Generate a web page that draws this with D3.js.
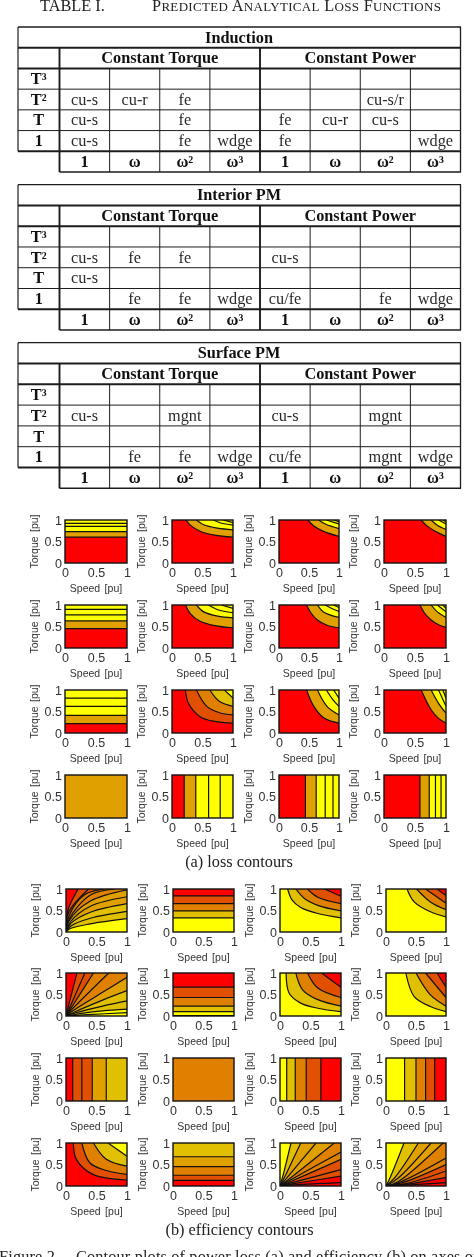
<!DOCTYPE html>
<html>
<head>
<meta charset="utf-8">
<script src="https://cdn.jsdelivr.net/npm/d3@7"></script>
<style>
  html, body { margin: 0; padding: 0; background: #fff; overflow: hidden; }
  svg { display: block; filter: blur(0.35px); }
</style>
</head>
<body>
<script>
// ---- table contents ----
const tableTitles = ["Induction", "Interior PM", "Surface PM"];
const regimes = ["Constant Torque", "Constant Power"];
const torqueTerms = ["T³", "T²", "T", "1"];
const speedTerms = ["1", "ω", "ω²", "ω³", "1", "ω", "ω²", "ω³"];

const inductionCells = [
  ["", "", "", "", "", "", "", ""],
  ["cu-s", "cu-r", "fe", "", "", "", "cu-s/r", ""],
  ["cu-s", "", "fe", "", "fe", "cu-r", "cu-s", ""],
  ["cu-s", "", "fe", "wdge", "fe", "", "", "wdge"]
];
const interiorCells = [
  ["", "", "", "", "", "", "", ""],
  ["cu-s", "fe", "fe", "", "cu-s", "", "", ""],
  ["cu-s", "", "", "", "", "", "", ""],
  ["", "fe", "fe", "wdge", "cu/fe", "", "fe", "wdge"]
];
const surfaceCells = [
  ["", "", "", "", "", "", "", ""],
  ["cu-s", "", "mgnt", "", "cu-s", "", "mgnt", ""],
  ["", "", "", "", "", "", "", ""],
  ["", "fe", "fe", "wdge", "cu/fe", "", "mgnt", "wdge"]
];

// ---- contour data: [speed, torque] along each contour ----
const speedTicks = [0, 0.5, 1];
const torqueTicks = [0, 0.5, 1];
const levelColors = ["#ff0000", "#e05000", "#e08000", "#e0a000", "#e0c000", "#ffff00"];

const flat = t => [[0, t], [1, t]];       // constant torque line
const upright = s => [[s, 1], [s, 0]];    // constant speed line

// panels are row by row, 4 per row. levels = colour rank of each region, contours nested
const lossLevels = [
  [0, 3, 5, 5, 5], [0, 3, 5, 5, 5], [0, 3, 5, 5, 5], [0, 3, 5, 5, 5],
  [0, 3, 5, 5, 5], [0, 3, 5, 5, 5], [0, 3, 5, 5, 5], [0, 3, 5, 5, 5],
  [0, 3, 5, 5, 5], [0, 1, 2, 4, 5], [0, 3, 5, 5, 5], [0, 3, 5, 5, 5],
  [3], [0, 3, 5, 5, 5], [0, 3, 5, 5, 5], [0, 3, 5, 5, 5]
];
const lossContours = [
  [flat(0.6), flat(0.73), flat(0.85), flat(0.92)],
  [
    [[0.23, 1], [0.3, 0.88], [0.46, 0.74], [0.7, 0.65], [1, 0.6]],
    [[0.4, 1], [0.52, 0.89], [0.75, 0.81], [1, 0.77]],
    [[0.68, 1], [0.8, 0.93], [1, 0.88]],
    [[0.84, 1], [1, 0.94]]
  ],
  [
    [[0.48, 1], [0.58, 0.86], [0.75, 0.73], [1, 0.62]],
    [[0.66, 1], [0.78, 0.9], [1, 0.8]],
    [[0.79, 1], [0.9, 0.95], [1, 0.91]],
    [[0.91, 1], [1, 0.96]]
  ],
  [
    [[0.6, 1], [0.68, 0.88], [0.81, 0.75], [1, 0.62]],
    [[0.76, 1], [0.86, 0.88], [1, 0.78]],
    [[0.88, 1], [1, 0.91]],
    [[0.95, 1], [1, 0.96]]
  ],

  [flat(0.45), flat(0.63), flat(0.77), flat(0.9)],
  [
    [[0.22, 1], [0.3, 0.8], [0.46, 0.62], [0.7, 0.52], [1, 0.47]],
    [[0.4, 1], [0.52, 0.84], [0.75, 0.74], [1, 0.7]],
    [[0.6, 1], [0.75, 0.89], [1, 0.82]],
    [[0.81, 1], [1, 0.92]]
  ],
  [
    [[0.46, 1], [0.53, 0.82], [0.64, 0.65], [0.8, 0.53], [1, 0.47]],
    [[0.64, 1], [0.74, 0.84], [1, 0.71]],
    [[0.77, 1], [0.88, 0.92], [1, 0.85]],
    [[0.91, 1], [1, 0.94]]
  ],
  [
    [[0.58, 1], [0.65, 0.82], [0.76, 0.65], [0.88, 0.54], [1, 0.48]],
    [[0.76, 1], [0.86, 0.84], [1, 0.71]],
    [[0.86, 1], [0.93, 0.92], [1, 0.84]],
    [[0.95, 1], [1, 0.92]]
  ],

  [flat(0.22), flat(0.41), flat(0.62), flat(0.81)],
  [
    [[0.22, 1], [0.27, 0.69], [0.46, 0.38], [0.7, 0.27], [1, 0.23]],
    [[0.4, 1], [0.57, 0.62], [0.78, 0.47], [1, 0.42]],
    [[0.62, 1], [0.78, 0.73], [1, 0.62]],
    [[0.86, 1], [1, 0.81]]
  ],
  [
    [[0.46, 1], [0.58, 0.62], [0.75, 0.35], [1, 0.23]],
    [[0.64, 1], [0.8, 0.62], [1, 0.42]],
    [[0.79, 1], [0.9, 0.77], [1, 0.62]],
    [[0.91, 1], [1, 0.81]]
  ],
  [
    [[0.6, 1], [0.76, 0.54], [0.88, 0.34], [1, 0.23]],
    [[0.76, 1], [0.88, 0.69], [1, 0.46]],
    [[0.88, 1], [1, 0.62]],
    [[0.95, 1], [1, 0.81]]
  ],

  [],
  [upright(0.2), upright(0.39), upright(0.6), upright(0.79)],
  [upright(0.44), upright(0.62), upright(0.77), upright(0.9)],
  [upright(0.58), upright(0.73), upright(0.83), upright(0.92)]
];

const efficiencyLevels = [
  [5, 4, 4, 3, 3, 2, 2, 1, 1, 0],
  [5, 4, 2, 1, 0], [5, 4, 2, 1, 0], [5, 4, 2, 1, 0],
  [5, 5, 4, 4, 3, 2, 2, 1, 1, 0],
  [5, 5, 4, 2, 1, 0], [5, 4, 2, 1, 0], [5, 4, 2, 1, 0],
  [0, 1, 1, 3, 4], [2], [5, 4, 2, 1, 0], [5, 4, 2, 1, 0],
  [0, 1, 2, 4, 5], [0, 1, 2, 3, 4],
  [0, 0, 1, 1, 2, 2, 3, 3, 4, 5],
  [0, 0, 1, 1, 2, 2, 3, 3, 4, 5]
];
const efficiencyContours = [
  [
    [[0, 0], [0.07, 0.08], [0.4, 0.19], [1, 0.31]],
    [[0, 0], [0.08, 0.14], [0.4, 0.32], [1, 0.48]],
    [[0, 0], [0.08, 0.2], [0.4, 0.46], [1, 0.66]],
    [[0, 0], [0.08, 0.25], [0.4, 0.6], [1, 0.82]],
    [[0, 0], [0.06, 0.28], [0.4, 0.72], [1, 0.98]],
    [[0, 0], [0.05, 0.3], [0.4, 0.86], [0.8, 1]],
    [[0, 0], [0.05, 0.38], [0.3, 0.86], [0.62, 1]],
    [[0, 0], [0.04, 0.45], [0.37, 1]],
    [[0, 0], [0.03, 0.5], [0.2, 1]]
  ],
  [flat(0.33), flat(0.49), flat(0.66), flat(0.84)],
  [
    [[0.125, 1], [0.2, 0.74], [0.34, 0.57], [0.62, 0.43], [1, 0.33]],
    [[0.26, 1], [0.4, 0.78], [0.62, 0.62], [1, 0.49]],
    [[0.45, 1], [0.62, 0.81], [1, 0.66]],
    [[0.73, 1], [1, 0.83]]
  ],
  [
    [[0.35, 1], [0.47, 0.7], [0.74, 0.47], [1, 0.35]],
    [[0.51, 1], [0.74, 0.7], [1, 0.52]],
    [[0.66, 1], [1, 0.67]],
    [[0.85, 1], [1, 0.85]]
  ],

  [
    [[0, 0], [0.35, 0.03], [1, 0.08]],
    [[0, 0], [0.2, 0.05], [0.6, 0.12], [1, 0.16]],
    [[0, 0], [0.15, 0.07], [0.6, 0.23], [1, 0.35]],
    [[0, 0], [0.15, 0.1], [0.6, 0.37], [1, 0.59]],
    [[0, 0], [0.1, 0.11], [0.6, 0.55], [1, 0.9]],
    [[0, 0], [0.1, 0.16], [0.7, 1]],
    [[0, 0], [0.1, 0.22], [0.45, 1]],
    [[0, 0], [0.1, 0.32], [0.31, 1]],
    [[0, 0], [0.07, 0.4], [0.18, 1]]
  ],
  [flat(0.01), flat(0.1), flat(0.23), flat(0.43), flat(0.67)],
  [
    [[0.1, 1], [0.15, 0.53], [0.34, 0.3], [0.62, 0.18], [1, 0.1]],
    [[0.26, 1], [0.37, 0.61], [0.62, 0.38], [1, 0.23]],
    [[0.45, 1], [0.62, 0.65], [1, 0.43]],
    [[0.68, 1], [1, 0.67]]
  ],
  [
    [[0.33, 1], [0.47, 0.45], [0.74, 0.22], [1, 0.1]],
    [[0.5, 1], [0.74, 0.49], [1, 0.23]],
    [[0.66, 1], [1, 0.43]],
    [[0.85, 1], [1, 0.67]]
  ],

  [upright(0.11), upright(0.26), upright(0.43), upright(0.66)],
  [],
  [upright(0.11), upright(0.25), upright(0.43), upright(0.67)],
  [upright(0.31), upright(0.5), upright(0.66), upright(0.81)],

  [
    [[0.12, 1], [0.17, 0.62], [0.44, 0.27], [1, 0.14]],
    [[0.26, 1], [0.39, 0.54], [0.66, 0.36], [1, 0.27]],
    [[0.45, 1], [0.66, 0.62], [1, 0.46]],
    [[0.69, 1], [1, 0.69]]
  ],
  [flat(0.13), flat(0.25), flat(0.45), flat(0.68)],
  [
    [[0, 0], [0.3, 0.03], [1, 0.08]],
    [[0, 0], [0.25, 0.06], [1, 0.23]],
    [[0, 0], [0.15, 0.06], [1, 0.38]],
    [[0, 0], [0.12, 0.07], [1, 0.62]],
    [[0, 0], [0.12, 0.1], [1, 0.79]],
    [[0, 0], [0.12, 0.13], [0.89, 1]],
    [[0, 0], [0.12, 0.2], [0.59, 1]],
    [[0, 0], [0.08, 0.22], [0.34, 1]],
    [[0, 0], [0.05, 0.25], [0.18, 1]]
  ],
  [
    [[0, 0], [0.45, 0.03], [1, 0.08]],
    [[0, 0], [0.4, 0.05], [1, 0.2]],
    [[0, 0], [0.35, 0.06], [1, 0.35]],
    [[0, 0], [0.3, 0.09], [1, 0.5]],
    [[0, 0], [0.25, 0.1], [1, 0.65]],
    [[0, 0], [0.2, 0.1], [0.95, 1]],
    [[0, 0], [0.2, 0.18], [0.75, 1]],
    [[0, 0], [0.15, 0.2], [0.54, 1]],
    [[0, 0], [0.07, 0.2], [0.3, 1]]
  ]
];

// ---- layout ----
const width = 474, height = 1257;
const svg = d3.select("body").append("svg")
  .attr("width", width).attr("height", height);
const serif = "'Liberation Serif', 'Times New Roman', serif";
const sans = "'Liberation Sans', Arial, sans-serif";
const ink = "#1c1c1c";

// header line, small caps done by hand so the width can follow the scan
svg.append("text").attr("x", 40).attr("y", 10.5)
  .attr("font-family", serif).attr("font-size", 16.3).attr("fill", "#222")
  .text("TABLE I.");
const headWords = ["PREDICTED", "ANALYTICAL", "LOSS", "FUNCTIONS"];
const head = svg.append("text").attr("x", 152).attr("y", 10.5)
  .attr("font-family", serif).attr("font-size", 16.3).attr("fill", "#222")
  .attr("textLength", 289).attr("lengthAdjust", "spacing");
headWords.forEach((w, i) => {
  head.append("tspan").text((i ? " " : "") + w[0]);
  head.append("tspan").attr("font-size", 13).text(w.slice(1));
});

function drawTable(top, bottom, title, cells) {
  const g = svg.append("g");
  const rowY = d3.scaleLinear().domain([0, 7]).range([top, bottom]);
  const colX = d3.scaleLinear().domain([0, 8]).range([59.5, 460.5]);
  const hLine = (i, x1, w) => g.append("line")
    .attr("x1", x1).attr("x2", 461).attr("y1", rowY(i)).attr("y2", rowY(i))
    .attr("stroke", ink).attr("stroke-width", w);
  const vLine = (x, i1, i2, w) => g.append("line")
    .attr("x1", x).attr("x2", x).attr("y1", rowY(i1)).attr("y2", rowY(i2))
    .attr("stroke", ink).attr("stroke-width", w);

  hLine(0, 18, 1.3); hLine(1, 18, 1.9); hLine(2, 18, 1.9);
  hLine(3, 18, 1); hLine(4, 18, 1); hLine(5, 18, 1);
  hLine(6, 18, 1.9); hLine(7, 59.5, 1.4);
  vLine(18, 0, 6, 1.2);
  vLine(colX(8), 0, 7, 1.3);
  vLine(colX(0), 1, 7, 1.9);
  vLine(colX(4), 1, 7, 1.9);
  d3.range(1, 8).filter(c => c !== 4).forEach(c => vLine(colX(c), 2, 7, 1));

  const put = (x, row, txt, bold) => g.append("text")
    .attr("x", x).attr("y", rowY(row + 0.5) + 5.2)
    .attr("text-anchor", "middle")
    .attr("font-family", serif).attr("font-size", 16.3)
    .attr("font-weight", bold ? "bold" : "normal")
    .attr("fill", bold ? "#111" : "#2a2a2a")
    .text(txt);

  put(239, 0, title, true);
  regimes.forEach((r, i) => put(colX(i * 4 + 2), 1, r, true));
  torqueTerms.forEach((t, i) => put(38.7, i + 2, t, true));
  cells.forEach((row, i) => row.forEach((c, j) => {
    if (c) put(colX(j + 0.5), i + 2, c, false);
  }));
  speedTerms.forEach((s, j) => put(colX(j + 0.5), 6, s, true));
}

drawTable(27, 172, tableTitles[0], inductionCells);
drawTable(184.7, 330, tableTitles[1], interiorCells);
drawTable(342.7, 488.3, tableTitles[2], surfaceCells);

// walk the unit square anticlockwise from a contour's end back to its start
function edgePos(p) {
  const [x, y] = p;
  if (y === 0) return x;
  if (x === 1) return 1 + y;
  if (y === 1) return 3 - x;
  return 4 - y;
}
const corners = [[1, 0], [1, 1], [0, 1], [0, 0]];
function cornersBetween(pts) {
  const a = edgePos(pts[pts.length - 1]);
  let b = edgePos(pts[0]);
  if (b <= a) b += 4;
  const out = [];
  for (let s = Math.floor(a) + 1; s < b; s++) out.push(corners[(s - 1) % 4]);
  return out;
}

let clipId = 0;
function drawPanel(x0, y0, w, h, levels, contours) {
  const g = svg.append("g");
  const x = d3.scaleLinear().domain([0, 1]).range([x0, x0 + w]);
  const y = d3.scaleLinear().domain([0, 1]).range([y0 + h, y0]);
  const line = d3.line().x(d => x(d[0])).y(d => y(d[1])).curve(d3.curveCatmullRom.alpha(0.5));
  const id = "clip" + (clipId++);
  g.append("clipPath").attr("id", id).append("rect")
    .attr("x", x0).attr("y", y0).attr("width", w).attr("height", h);

  const plot = g.append("g").attr("clip-path", `url(#${id})`);
  plot.append("rect").attr("x", x0).attr("y", y0).attr("width", w).attr("height", h)
    .attr("fill", levelColors[levels[0]]);

  contours.forEach((pts, i) => {
    const tail = cornersBetween(pts).map(c => `L${x(c[0])},${y(c[1])}`).join("");
    plot.append("path").attr("d", line(pts) + tail + "Z")
      .attr("fill", levelColors[levels[i + 1]]);
  });
  plot.selectAll("path.contour").data(contours).join("path")
    .attr("class", "contour")
    .attr("d", line)
    .attr("fill", "none").attr("stroke", "#111").attr("stroke-width", 1.2);

  g.append("rect").attr("x", x0).attr("y", y0).attr("width", w).attr("height", h)
    .attr("fill", "none").attr("stroke", "#111").attr("stroke-width", 1.4);

  const fmt = d => String(d);
  const xAxis = g.append("g").attr("transform", `translate(0,${y0 + h})`)
    .call(d3.axisBottom(x).tickValues(speedTicks).tickFormat(fmt).tickSize(0).tickPadding(5));
  const yAxis = g.append("g").attr("transform", `translate(${x0},0)`)
    .call(d3.axisLeft(y).tickValues(torqueTicks).tickFormat(fmt).tickSize(0).tickPadding(3));
  [xAxis, yAxis].forEach(a => {
    a.select(".domain").remove();
    a.selectAll("text").attr("font-family", sans).attr("font-size", 12.5).attr("fill", "#333");
  });

  g.append("text").attr("x", x0 + w / 2).attr("y", y0 + h + 29)
    .attr("text-anchor", "middle").attr("font-family", sans).attr("font-size", 10.5)
    .attr("fill", "#333").attr("word-spacing", 1.5)
    .text("Speed [pu]");
  g.append("text")
    .attr("transform", `translate(${x0 - 27.5},${y0 + h / 2}) rotate(-90)`)
    .attr("text-anchor", "middle").attr("font-family", sans).attr("font-size", 10.5)
    .attr("fill", "#333").attr("word-spacing", 1.5)
    .text("Torque [pu]");
}

function drawGrid(colLefts, colWidths, rowTops, plotH, levels, contours) {
  rowTops.forEach((top, r) => colLefts.forEach((left, c) => {
    const k = r * colLefts.length + c;
    drawPanel(left, top, colWidths[c], plotH, levels[k], contours[k]);
  }));
}

drawGrid([65, 172, 279, 384], [62, 61, 60, 62], [520, 605, 690, 775], 43,
  lossLevels, lossContours);
drawGrid([66, 173, 280, 386], [61, 61, 61, 60], [889, 973, 1058, 1143], 43,
  efficiencyLevels, efficiencyContours);

// captions
const caption = (x, y, txt, anchor) => svg.append("text")
  .attr("x", x).attr("y", y).attr("text-anchor", anchor)
  .attr("font-family", serif).attr("font-size", 16.3).attr("fill", "#222").text(txt);
caption(239, 867, "(a) loss contours", "middle");
caption(239.5, 1235, "(b) efficiency contours", "middle");
caption(-1, 1262, "Figure 2.    Contour plots of power loss (a) and efficiency (b) on axes of", "start")
  .style("white-space", "pre").attr("letter-spacing", 0.15);
</script>
</body>
</html>
